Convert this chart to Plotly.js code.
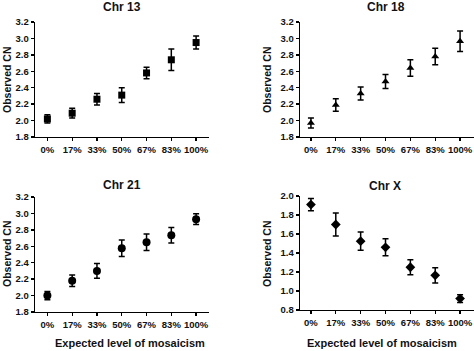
<!DOCTYPE html>
<html>
<head>
<meta charset="utf-8">
<script src="https://cdn.plot.ly/plotly-3.0.1.min.js"></script>
<style>html,body{margin:0;padding:0;background:#fff;}#chart{width:474px;height:351px;}</style>
</head>
<body>
<div id="chart"></div>
<script>
const categories = ['0%','17%','33%','50%','67%','83%','100%'];
const chr13 = [2.02, 2.09, 2.26, 2.31, 2.58, 2.74, 2.95];
const err13 = [0.05, 0.06, 0.07, 0.09, 0.07, 0.13, 0.08];
const chr18 = [1.97, 2.19, 2.33, 2.475, 2.64, 2.78, 2.965];
const err18 = [0.06, 0.075, 0.08, 0.085, 0.10, 0.10, 0.125];
const chr21 = [2.00, 2.18, 2.30, 2.575, 2.65, 2.735, 2.93];
const err21 = [0.05, 0.07, 0.09, 0.10, 0.10, 0.095, 0.065];
const chrX = [1.91, 1.70, 1.525, 1.46, 1.25, 1.165, 0.92];
const errX = [0.065, 0.12, 0.095, 0.09, 0.08, 0.08, 0.04];
const titles = ['Chr 13', 'Chr 18', 'Chr 21', 'Chr X'];

const W = 474, H = 351;
const FONT = 'Liberation Sans, Arial, sans-serif';

function trace(y, e, sym, size, xa, ya) {
  return {
    type: 'scatter', mode: 'markers', x: categories, y: y,
    xaxis: xa, yaxis: ya, cliponaxis: false,
    marker: {symbol: sym, size: size, color: '#000'},
    error_y: {type: 'data', array: e, visible: true, color: '#000', thickness: 1.5, width: 3},
    showlegend: false, hoverinfo: 'skip'
  };
}
const data = [
  trace(chr13, err13, 'square', 7, 'x', 'y'),
  trace(chr18, err18, 'triangle-up', 7, 'x2', 'y2'),
  trace(chr21, err21, 'circle', 8, 'x3', 'y3'),
  trace(chrX, errX, 'diamond', 7.5, 'x4', 'y4')
];

function xax(domain, range, anchor) {
  return {
    domain: domain, range: range, anchor: anchor, type: 'category',
    showline: true, linecolor: '#000', linewidth: 1.3,
    ticks: 'outside', ticklen: 3, tickwidth: 1.3, tickcolor: '#000',
    showgrid: false, zeroline: false,
    tickfont: {family: FONT, size: 9.5, color: '#111', weight: 'bold'}
  };
}
function yax(domain, range, anchor) {
  return {
    domain: domain, range: range, anchor: anchor,
    dtick: 0.2, tickformat: '.1f',
    showline: true, linecolor: '#000', linewidth: 1.3,
    ticks: 'outside', ticklen: 3, tickwidth: 1.3, tickcolor: '#000',
    showgrid: false, zeroline: false,
    tickfont: {family: FONT, size: 9.5, color: '#111', weight: 'bold'}
  };
}
const dxL = [35 / W, 208.5 / W], dxR = [300 / W, 1];
const dyT = [1 - 137 / H, 1 - 22 / H], dyB3 = [1 - 312 / H, 1 - 197 / H], dyB4 = [1 - 310 / H, 1 - 196 / H];

function ann(text, xpx, ypx, size, angle) {
  return {
    text: text, xref: 'paper', yref: 'paper', x: xpx / W, y: 1 - ypx / H,
    xanchor: 'center', yanchor: 'middle', showarrow: false, textangle: angle || 0,
    font: {family: FONT, size: size, color: '#111', weight: 'bold'}
  };
}

const layout = {
  width: W, height: H, margin: {l: 0, r: 0, t: 0, b: 0},
  paper_bgcolor: '#fff', plot_bgcolor: '#fff',
  xaxis: xax(dxL, [-0.5, 6.5], 'y'),
  yaxis: yax(dyT, [1.8, 3.2], 'x'),
  xaxis2: xax(dxR, [-0.44, 6.56], 'y2'),
  yaxis2: yax(dyT, [1.8, 3.2], 'x2'),
  xaxis3: xax(dxL, [-0.5, 6.5], 'y3'),
  yaxis3: yax(dyB3, [1.8, 3.2], 'x3'),
  xaxis4: xax(dxR, [-0.44, 6.56], 'y4'),
  yaxis4: yax(dyB4, [0.8, 2.0], 'x4'),
  annotations: [
    ann(titles[0], 122, 7, 12),
    ann(titles[1], 386, 7, 12),
    ann(titles[2], 122, 185, 12),
    ann(titles[3], 385, 186, 12),
    ann('Observed CN', 7, 80, 10.5, -90),
    ann('Observed CN', 267, 80, 10.5, -90),
    ann('Observed CN', 7, 254, 10.5, -90),
    ann('Observed CN', 267, 254, 10.5, -90),
    ann('Expected level of mosaicism', 130, 343, 11),
    ann('Expected level of mosaicism', 382, 343, 11)
  ]
};
Plotly.newPlot('chart', data, layout, {staticPlot: true, displayModeBar: false});
</script>
</body>
</html>
